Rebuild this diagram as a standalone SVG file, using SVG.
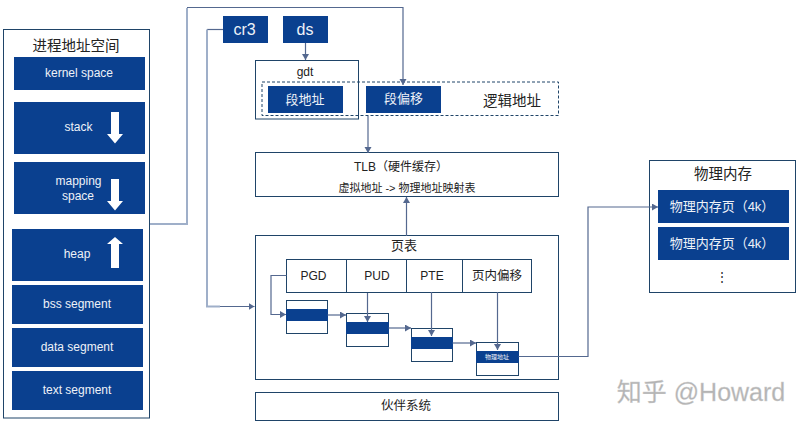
<svg xmlns="http://www.w3.org/2000/svg" width="804" height="425" viewBox="0 0 804 425">
<style>
text{font-family:"Liberation Sans","Noto Sans CJK SC",sans-serif;text-anchor:middle;dominant-baseline:central}
.box{fill:#fff;stroke:#1f4468;stroke-width:1}
.fill{fill:#0a408f}
.w{fill:#eef2f8;font-size:12px}
.z{fill:#eef2f8;font-size:13px}
.k{fill:#222;font-size:12px}
.c{fill:none;stroke:#54688f;stroke-width:1.2}
.ca{fill:none;stroke:#54688f;stroke-width:1.2;marker-end:url(#a)}
.l{fill:none;stroke:#9fafc9;stroke-width:2}
</style>
<defs>
<marker id="a" markerUnits="userSpaceOnUse" markerWidth="8" markerHeight="8" refX="6" refY="3.5" orient="auto"><path d="M0 0L6 3.5L0 7z" fill="#54688f"/></marker>
</defs>
<rect width="804" height="425" fill="#fff"/>
<g id="connectors-back">
<path class="l" d="M149.500 224H187V8"/>
</g>
<g id="process-space">
<rect class="box" x="3.500" y="29.500" width="146" height="388.500"/>
<text class="k" x="76" y="46" style="font-size:14.500px">进程地址空间</text>
</g>
<g id="kernel-space"><rect class="fill" x="14" y="57" width="131" height="33"/><text class="w" x="79" y="73">kernel space</text></g>
<g id="stack"><rect class="fill" x="14" y="102" width="131" height="52"/><text class="w" x="78.500" y="127">stack</text><path d="M111 112h8v22h4l-8 9.500-8-9.500h4z" fill="#fff"/></g>
<g id="mapping-space"><rect class="fill" x="14" y="162" width="131" height="52"/><text class="w" x="78.500" y="180.500">mapping</text><text class="w" x="78" y="195.500">space</text><path d="M111 179h8v22h4l-8 9.500-8-9.500h4z" fill="#fff"/></g>
<g id="heap"><rect class="fill" x="12" y="229" width="131" height="52"/><text class="w" x="77" y="254">heap</text><path d="M115 237l8 7h-4v24h-8v-24h-4z" fill="#fff"/></g>
<g id="bss-segment"><rect class="fill" x="12" y="285" width="131" height="39"/><text class="w" x="77" y="304">bss segment</text></g>
<g id="data-segment"><rect class="fill" x="12" y="328" width="131" height="39"/><text class="w" x="77" y="347">data segment</text></g>
<g id="text-segment"><rect class="fill" x="12" y="371" width="131" height="39"/><text class="w" x="77" y="390">text segment</text></g>

<g id="cr3"><rect class="fill" x="223" y="16" width="45" height="27"/><text class="w" x="244.500" y="29" style="font-size:16px">cr3</text></g>
<g id="ds"><rect class="fill" x="283" y="16" width="45" height="27"/><text class="w" x="305" y="29" style="font-size:16px">ds</text></g>
<g id="gdt"><rect class="box" x="255.500" y="60.500" width="103" height="58.500"/><text class="k" x="305" y="72">gdt</text></g>
<g id="logical-address">
<rect x="262" y="82" width="296.500" height="33.500" fill="none" stroke="#1f4468" stroke-dasharray="3 2"/>
<text class="k" x="512" y="101" style="font-size:14.500px">逻辑地址</text>
</g>
<g id="segment-base"><rect class="fill" x="268" y="86" width="75" height="27"/><text class="z" x="305" y="99">段地址</text></g>
<g id="segment-offset"><rect class="fill" x="366" y="86" width="75" height="27"/><text class="z" x="403.500" y="98.500">段偏移</text></g>
<g id="tlb"><rect class="box" x="255.500" y="152.500" width="303" height="44"/>
<text class="k" x="401" y="167">TLB（硬件缓存）</text>
<text class="k" x="407" y="187.500" style="font-size:11px">虚拟地址 -&gt; 物理地址映射表</text></g>
<g id="page-table"><rect class="box" x="255.500" y="235.500" width="303" height="144"/><text class="k" x="404" y="245" style="font-size:13px">页表</text></g>
<g id="page-fields">
<rect class="box" x="286.500" y="259.500" width="245" height="33"/>
<path d="M346.500 259.500v33M406.500 259.500v33M462.500 259.500v33" stroke="#1f4468" fill="none"/>
<text class="k" x="313.500" y="275.500">PGD</text><text class="k" x="377" y="275.500">PUD</text><text class="k" x="432" y="275.500">PTE</text><text class="k" x="497" y="275.500" style="font-size:12.500px">页内偏移</text>
</g>
<g id="level-1"><rect class="box" x="286.500" y="300.500" width="41" height="33"/><rect class="fill" x="286" y="309" width="42" height="12"/></g>
<g id="level-2"><rect class="box" x="346.500" y="313.500" width="42" height="33"/><rect class="fill" x="346" y="322" width="43" height="12"/></g>
<g id="level-3"><rect class="box" x="411.500" y="328.500" width="41" height="33"/><rect class="fill" x="411" y="337" width="42" height="12"/></g>
<g id="level-4"><rect class="box" x="476.500" y="342.500" width="42" height="33"/><rect class="fill" x="476" y="351" width="43" height="12"/><text class="w" x="497" y="356.500" style="font-size:6px">物理地址</text></g>
<g id="buddy-system"><rect class="box" x="255.500" y="392.500" width="303" height="28"/><text class="k" x="406" y="406" style="font-size:12.500px">伙伴系统</text></g>
<g id="physical-memory"><rect class="box" x="649.500" y="160.500" width="146" height="132"/><text class="k" x="723" y="174" style="font-size:14.500px">物理内存</text><text class="k" x="722" y="277">⋮</text></g>
<g id="page-1"><rect class="fill" x="658" y="190" width="131" height="33"/><text class="z" x="722" y="206.500">物理内存页（4k）</text></g>
<g id="page-2"><rect class="fill" x="658" y="227" width="131" height="33"/><text class="z" x="722" y="243.500">物理内存页（4k）</text></g>

<g id="connectors">
<path class="ca" d="M187 7.500H403V85"/>
<path class="c" d="M223 29.500H207"/>
<path class="l" d="M207 29.500V306.500H220"/>
<path class="ca" d="M220 306.500H254.500"/>
<path class="ca" d="M305.500 43V60"/>
<path class="ca" d="M368 116V153"/>
<path class="ca" d="M406.500 236V197"/>
<path class="ca" d="M286.500 275.500H271V314.500H286"/>
<path class="ca" d="M327.500 315H346"/>
<path class="ca" d="M388.500 328H411"/>
<path class="ca" d="M452.500 343H476"/>
<path class="ca" d="M367.500 293V322"/>
<path class="ca" d="M431.500 292V336"/>
<path class="ca" d="M497.500 292V350"/>
<path class="ca" d="M518.500 356.500H588V207H658"/>
</g>
<text id="watermark" x="701" y="392" style="font-size:25px;fill:#b4b4b4;stroke:#cfcfcf;stroke-width:.3">知乎 @Howard</text>
</svg>
